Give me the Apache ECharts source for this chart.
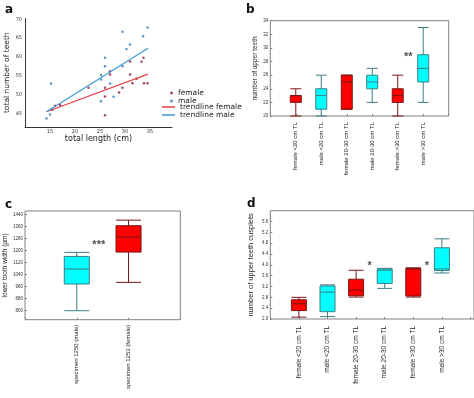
<!DOCTYPE html>
<html>
<head>
<meta charset="utf-8">
<script src="https://cdn.jsdelivr.net/npm/echarts@6/dist/echarts.min.js"></script>
<style>
html, body { margin: 0; padding: 0; background: #fff; }
#chart { width: 474px; height: 398px; }
</style>
</head>
<body>
<div id="chart"></div>
<script>
// panel a - scatter with trendlines
var aFemale = [[15.5,46.0],[16.0,47.0],[17.0,47.2],[22.7,51.8],[26.0,51.8],[26.0,49.5],[26.0,44.5],
	[27.0,55.3],[27.0,56.2],[28.8,50.5],[29.5,51.8],[31.0,55.3],[31.0,58.8],[31.5,53.0],[32.3,54.2],
	[33.3,58.7],[33.7,59.8],[33.8,53.0],[34.5,53.0]];
var aMale = [[14.3,43.6],[15.0,44.7],[15.2,52.9],[15.3,46.0],[25.2,55.2],[25.2,54.0],[25.2,48.2],
	[26.0,59.8],[26.0,57.5],[27.0,52.9],[27.7,49.4],[29.5,66.7],[29.5,57.5],[30.3,62.1],[31.0,63.3],
	[33.6,65.5],[34.5,67.8]];
var aTrendFemale = [[14.3,45.4],[34.6,55.4]];
var aTrendMale = [[14.3,45.4],[34.6,62.3]];
var aXTicks = [15,20,25,30,35];
var aYTicks = [45,50,55,60,65,70];

// panel b - number of upper teeth
var bCats = ['female <20 cm TL','male <20 cm TL','female 20-30 cm TL','male 20-30 cm TL','female >30 cm TL','male >30 cm TL'];
var bSex = ['f','m','f','m','f','m'];
var bBoxes = [[20,22,23,23,24],[20,21,23,24,26],[21,21,25,26,26],[22,24,25,26,27],[20,22,23,24,26],[22,25,27,29,33]];
var bMarks = [['male >30 cm TL',28.7,'**']];

// panel c - lower tooth width
var cCats = ['specimen 1250 (male)','specimen 1253 (female)'];
var cSex = ['m','f'];
var cBoxes = [[800,978,1078,1162,1189],[989,1191,1291,1367,1404]];
var cYTicks = [800,880,960,1040,1120,1200,1280,1360,1440];
var cMarks = [['specimen 1250 (male)',1238,'***']];

// panel d - upper teeth cusplets
var dCats = bCats;
var dSex = bSex;
var dBoxes = [[2.07,2.31,2.56,2.71,2.80],[2.09,2.27,2.99,3.22,3.26],[2.81,2.86,3.07,3.47,3.80],
	[3.13,3.31,3.80,3.85,3.87],[2.81,2.85,3.85,3.87,3.89],[3.70,3.79,3.85,4.63,4.96]];
var dYTicks = [2.0,2.4,2.8,3.2,3.6,4.0,4.4,4.8,5.2,5.6];
var dMarks = [['male 20-30 cm TL',3.95,'*'],['male >30 cm TL',3.95,'*']];

var fill = { f: '#ff0000', m: '#00ffff' };
var edge = { f: '#7a1515', m: '#3a7f84' };
var frame = '#808080';
var font = 'Liberation Sans';

function padCats(cats) {
	return [' '].concat(cats, ['  ']);
}

function boxData(cats, boxes, sex) {
	return boxes.map(function(b, i) {
		return {
			value: [cats[i]].concat(b),
			itemStyle: { color: fill[sex[i]], borderColor: edge[sex[i]], borderWidth: 1 }
		};
	});
}

function markSeries(xi, yi, marks, dx) {
	return {
		type: 'scatter', xAxisIndex: xi, yAxisIndex: yi, symbolSize: 0, silent: true,
		data: marks.map(function(m) { return { value: [m[0], m[1]], name: m[2] }; }),
		label: { show: true, position: 'inside', offset: [dx, 0], formatter: '{b}',
			fontSize: 11, fontWeight: 'bold', color: '#222', fontFamily: font }
	};
}

function catAxis(gi, cats, fs, margin) {
	return {
		type: 'category', gridIndex: gi, data: padCats(cats), boundaryGap: false,
		axisLine: { show: false },
		axisTick: { show: true, inside: true, length: 2, lineStyle: { color: frame } },
		axisLabel: { interval: 0, rotate: 90, fontSize: fs, margin: margin, color: '#222', fontFamily: font },
		splitLine: { show: false }
	};
}

var chart = echarts.init(document.getElementById('chart'), null, { renderer: 'canvas' });

var option = {
	animation: false,
	backgroundColor: '#fff',
	title: [
		{ text: 'a', left: 0, top: -1, textStyle: { fontSize: 12, fontWeight: 'bold', color: '#111', fontFamily: 'DejaVu Sans' } },
		{ text: 'b', left: 241, top: -1, textStyle: { fontSize: 12, fontWeight: 'bold', color: '#111', fontFamily: 'DejaVu Sans' } },
		{ text: 'c', left: 0, top: 194, textStyle: { fontSize: 12, fontWeight: 'bold', color: '#111', fontFamily: 'DejaVu Sans' } },
		{ text: 'd', left: 242, top: 193, textStyle: { fontSize: 12, fontWeight: 'bold', color: '#111', fontFamily: 'DejaVu Sans' } }
	],
	legend: [
		{ orient: 'vertical', left: 170, top: 89, padding: 0, itemWidth: 3, itemHeight: 3, itemGap: 0, icon: 'circle',
			data: ['female', 'male'],
			textStyle: { fontSize: 7.5, lineHeight: 7, color: '#222', fontFamily: 'DejaVu Sans' } },
		{ orient: 'vertical', left: 162, top: 103, padding: 0, itemWidth: 13, itemHeight: 1.5, itemGap: 0, icon: 'rect',
			data: ['trendline female', 'trendline male'],
			textStyle: { fontSize: 7.5, lineHeight: 7, color: '#222', fontFamily: 'DejaVu Sans' } }
	],
	grid: [
		{ left: 25, top: 18.5, width: 147, height: 108.5, show: false },
		{ left: 270.3, top: 20.7, width: 178.4, height: 95.3, show: true, borderColor: frame, borderWidth: 1, backgroundColor: 'transparent' },
		{ left: 25, top: 211, width: 155.3, height: 108.7, show: true, borderColor: frame, borderWidth: 1, backgroundColor: 'transparent' },
		{ left: 270.3, top: 210.7, width: 200.9, height: 108.3, show: false },
		{ left: 270.3, top: 210.7, width: 220, height: 108.3, show: true, borderColor: frame, borderWidth: 1, backgroundColor: 'transparent' }
	],
	xAxis: [
		{ type: 'value', gridIndex: 0, min: 10, max: 39.4,
			name: 'total length (cm)', nameLocation: 'middle', nameGap: 8,
			nameTextStyle: { fontSize: 8, color: '#222', fontFamily: 'DejaVu Sans' },
			axisLine: { show: true, lineStyle: { color: '#333', width: 1 } },
			axisTick: { show: false },
			axisLabel: { customValues: aXTicks, fontSize: 5, margin: 2, color: '#333', fontFamily: 'DejaVu Sans' },
			splitLine: { show: false } },
		catAxis(1, bCats, 6, 6),
		catAxis(2, cCats, 6, 5),
		catAxis(3, dCats, 6.5, 7),
		{ type: 'value', gridIndex: 4, show: false, min: 0, max: 1 }
	],
	yAxis: [
		{ type: 'value', gridIndex: 0, min: 41.36, max: 70.2,
			name: 'total number of teeth', nameLocation: 'middle', nameGap: 14, nameRotate: 90,
			nameTextStyle: { fontSize: 7.5, color: '#222', fontFamily: 'DejaVu Sans' },
			axisLine: { show: true, lineStyle: { color: '#333', width: 1 } },
			axisTick: { show: false },
			axisLabel: { customValues: aYTicks, fontSize: 5, margin: 3, color: '#333', fontFamily: 'DejaVu Sans' },
			splitLine: { show: false } },
		{ type: 'value', gridIndex: 1, min: 20, max: 34, interval: 2,
			name: 'number of upper teeth', nameLocation: 'middle', nameGap: 12, nameRotate: 90,
			nameTextStyle: { fontSize: 6.5, color: '#222', fontFamily: font },
			axisLine: { show: false },
			axisTick: { show: true, inside: true, length: 2, lineStyle: { color: frame } },
			axisLabel: { fontSize: 4.5, margin: 2, color: '#333', fontFamily: font },
			splitLine: { show: false } },
		{ type: 'value', gridIndex: 2, min: 740, max: 1465,
			name: 'lower tooth width (\u00b5m)', nameLocation: 'middle', nameGap: 16, nameRotate: 90,
			nameTextStyle: { fontSize: 6.5, color: '#222', fontFamily: font },
			axisLine: { show: false },
			axisTick: { show: true, inside: true, length: 2, customValues: cYTicks, lineStyle: { color: frame } },
			axisLabel: { customValues: cYTicks, fontSize: 4.5, margin: 2, color: '#333', fontFamily: font,
				formatter: function(v) { return String(v); } },
			splitLine: { show: false } },
		{ type: 'value', gridIndex: 3, min: 2.0, max: 6.0,
			name: 'number of upper teeth cusplets', nameLocation: 'middle', nameGap: 15, nameRotate: 90,
			nameTextStyle: { fontSize: 7.5, color: '#222', fontFamily: font },
			axisLine: { show: false },
			axisTick: { show: true, inside: true, length: 2, customValues: dYTicks, lineStyle: { color: frame } },
			axisLabel: { customValues: dYTicks, fontSize: 4.5, margin: 2, color: '#333', fontFamily: font,
				formatter: function(v) { return v.toFixed(1); } },
			splitLine: { show: false } },
		{ type: 'value', gridIndex: 4, show: false, min: 0, max: 1 }
	],
	series: [
		{ name: 'female', type: 'scatter', xAxisIndex: 0, yAxisIndex: 0, data: aFemale, symbolSize: 2.5,
			itemStyle: { color: '#8b1e3f' } },
		{ name: 'male', type: 'scatter', xAxisIndex: 0, yAxisIndex: 0, data: aMale, symbolSize: 2.5,
			itemStyle: { color: '#2f78b8' } },
		{ name: 'trendline female', type: 'line', xAxisIndex: 0, yAxisIndex: 0, data: aTrendFemale,
			showSymbol: false, lineStyle: { color: '#e8404a', width: 1.2 }, itemStyle: { color: '#e8404a' } },
		{ name: 'trendline male', type: 'line', xAxisIndex: 0, yAxisIndex: 0, data: aTrendMale,
			showSymbol: false, lineStyle: { color: '#3d9ad6', width: 1.2 }, itemStyle: { color: '#3d9ad6' } },

		{ type: 'boxplot', xAxisIndex: 1, yAxisIndex: 1, boxWidth: [11, 11],
			encode: { x: 0, y: [1, 2, 3, 4, 5] }, data: boxData(bCats, bBoxes, bSex) },
		markSeries(1, 1, bMarks, -15),

		{ type: 'boxplot', xAxisIndex: 2, yAxisIndex: 2, boxWidth: [25, 25],
			encode: { x: 0, y: [1, 2, 3, 4, 5] }, data: boxData(cCats, cBoxes, cSex) },
		markSeries(2, 2, cMarks, 22),

		{ type: 'boxplot', xAxisIndex: 3, yAxisIndex: 3, boxWidth: [15, 15],
			encode: { x: 0, y: [1, 2, 3, 4, 5] }, data: boxData(dCats, dBoxes, dSex) },
		markSeries(3, 3, dMarks, -15)
	]
};

chart.setOption(option);
</script>
</body>
</html>
